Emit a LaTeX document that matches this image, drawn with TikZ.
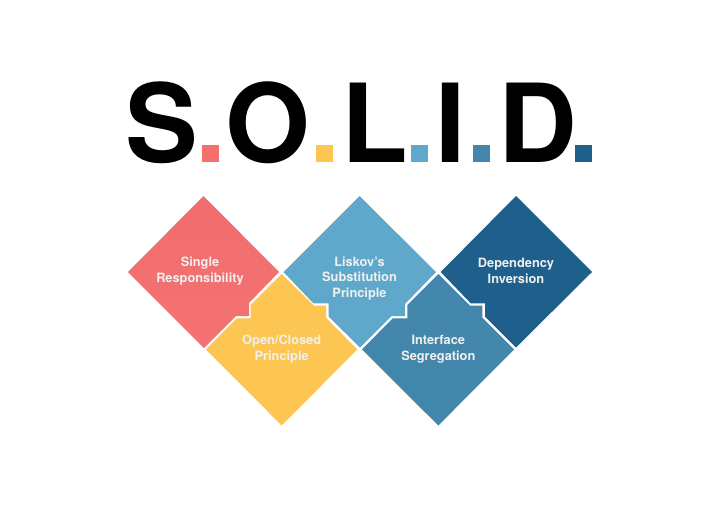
\documentclass[tikz,border=0pt]{standalone}
\usepackage{fontspec}
\setmainfont{TeX Gyre Heros}
\tikzset{
  letter/.style={inner sep=0pt,anchor=base,text=black,font=\fontsize{109}{109}\selectfont\bfseries},
  label/.style={inner sep=0pt,align=center,text=white!94!black,font=\fontsize{12.8}{15.8}\selectfont\bfseries},
  dot/.style={inner sep=0pt,minimum size=17pt,anchor=north west}
}
\definecolor{cred}{HTML}{F4706F}
\definecolor{cyel}{HTML}{FDC653}
\definecolor{clis}{HTML}{60A8CB}
\definecolor{cint}{HTML}{4286AB}
\definecolor{cdep}{HTML}{1F5F8B}
\begin{document}
\begin{tikzpicture}[x=1pt,y=-1pt]
\useasboundingbox (0,0) rectangle (720,509);
\fill[white] (0,0) rectangle (720,509);
% title
\node[letter] (s) at (161.5,162) {S};
\node[letter] (o) at (268,162) {O};
\node[letter] (l) at (374.5,162) {L};
\node[letter] (i) at (450.5,162) {I};
\node[letter] (d) at (537.5,162) {D};
\node[dot,fill=cred] (d1) at (202,145) {};
\node[dot,fill=cyel] (d2) at (316,145) {};
\node[dot,fill=clis] (d3) at (411,145) {};
\node[dot,fill=cint] (d4) at (473,145) {};
\node[dot,fill=cdep] (d5) at (575,145) {};
% shapes
\shade[left color=cred!98!black,right color=cred!98!white,shading angle=0]
 (128,272) -- (203.5,196) -- (279,272) -- (249,303) -- (249,316) -- (236,316) -- (204,348) -- cycle;
\fill[cyel] (206,349.5) -- (236.7,318.3) -- (250.7,318.3) -- (250.7,305) -- (281.7,274) -- (314,305.7) -- (326,305.7) -- (326,317.7) -- (357.3,349.5) -- (281.7,425.5) -- cycle;
\fill[clis] (283.5,272) -- (359.5,196) -- (436,272) -- (405,304) -- (405,316) -- (391.7,316) -- (360,347.5) -- (328.7,316.7) -- (328.7,303.3) -- (313.3,303.3) -- cycle;
\fill[cint] (362,349.5) -- (392.7,318.3) -- (407.3,318.3) -- (407.3,305) -- (438.3,274) -- (470,305.7) -- (482.3,305.7) -- (482.3,317.7) -- (514,349.5) -- (438.3,425.5) -- cycle;
\fill[cdep] (440.7,272) -- (516,196) -- (592,272) -- (516,347.5) -- (485,316.7) -- (485,303.3) -- (470.7,303.3) -- cycle;
% labels
\node[label] (t1) at (200,271) {Single\\Responsibility};
\node[label] (t2) at (281.7,349) {Open/Closed\\Principle};
\node[label] (t3) at (359.5,278.5) {Liskov's\\Substitution\\Principle};
\node[label] (t4) at (438.3,349) {Interface\\Segregation};
\node[label] (t5) at (516,271) {Dependency\\Inversion};
\end{tikzpicture}
\end{document}
